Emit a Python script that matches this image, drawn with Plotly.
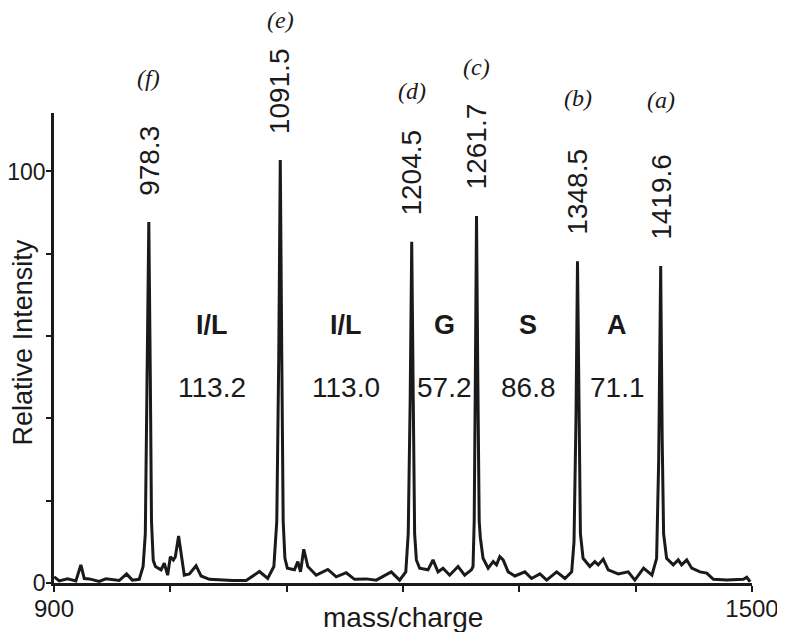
import plotly.graph_objects as go

# spectrum trace (m/z, relative intensity)
mz = [900.2, 904.5, 911.7, 918.8, 923.1, 926.0, 930.3, 938.9, 944.6, 956.1,
      962.4, 967.3, 973.3, 976.6, 978.5, 980.0, 981.5, 982.8, 983.8, 985.3,
      987.2, 992.0, 994.8, 997.7, 1000.0, 1002.6, 1004.3, 1007.1, 1009.2, 1012.0,
      1016.4, 1022.1, 1026.4, 1033.6, 1053.6, 1065.2, 1076.6, 1083.7, 1089.0, 1091.5,
      1093.2, 1094.5, 1095.8, 1097.0, 1098.5, 1100.6, 1106.7, 1109.6, 1111.9, 1114.7,
      1118.2, 1125.4, 1135.4, 1142.6, 1151.2, 1158.3, 1168.4, 1177.0, 1189.9, 1197.1,
      1202.4, 1204.5, 1206.2, 1207.5, 1208.8, 1210.0, 1211.5, 1214.3, 1221.5, 1225.8,
      1230.1, 1234.4, 1240.1, 1247.3, 1253.0, 1258.8, 1260.2, 1261.2, 1262.2, 1263.2,
      1264.3, 1265.5, 1266.5, 1268.8, 1273.2, 1277.5, 1280.4, 1283.2, 1286.1, 1290.4,
      1296.2, 1304.8, 1310.5, 1317.7, 1323.5, 1332.1, 1339.2, 1345.0, 1347.0, 1348.7,
      1350.0, 1351.3, 1352.5, 1354.8, 1360.6, 1364.9, 1367.8, 1372.1, 1376.4, 1385.0,
      1393.6, 1399.3, 1406.8, 1414.0, 1418.0, 1419.8, 1421.5, 1422.8, 1424.0, 1426.6,
      1432.3, 1436.6, 1439.5, 1443.9, 1448.2, 1455.3, 1461.1, 1466.8, 1478.3, 1492.6,
      1495.5, 1498.4]
intensity = [1.5, 0.5, 1.0, 0.5, 4.4, 1.1, 1.0, 0.4, 1.0, 0.6,
             2.2, 0.7, 0.9, 4.0, 12.0, 45.0, 87.7, 50.0, 15.0, 5.5,
             4.0, 3.2, 4.8, 1.9, 6.4, 5.6, 6.4, 11.4, 6.8, 1.9,
             2.2, 4.2, 1.7, 0.9, 0.6, 0.6, 2.8, 1.1, 4.0, 15.0,
             55.0, 102.8, 55.0, 15.0, 6.0, 3.6, 3.2, 5.2, 2.7, 8.2,
             4.0, 1.9, 3.3, 1.5, 2.5, 0.9, 1.0, 0.7, 2.7, 0.7,
             2.7, 12.0, 45.0, 82.9, 45.0, 12.0, 5.6, 3.6, 3.2, 5.6,
             2.7, 3.6, 1.9, 4.0, 1.9, 3.2, 4.0, 15.0, 50.0, 89.2,
             50.0, 15.0, 11.0, 6.0, 3.6, 5.2, 4.4, 6.4, 5.6, 2.7,
             1.7, 2.7, 1.1, 2.2, 0.7, 2.7, 1.1, 2.7, 10.0, 40.0,
             78.2, 40.0, 12.0, 6.0, 4.0, 5.2, 4.4, 5.8, 3.2, 2.2,
             2.7, 0.7, 3.6, 1.9, 6.0, 30.0, 77.0, 35.0, 12.0, 6.0,
             4.4, 5.6, 4.4, 5.6, 3.6, 2.7, 2.4, 0.9, 0.7, 0.9,
             1.4, 0.3]

# labelled fragment peaks
peak_mz = [981.5, 1094.5, 1207.5, 1263.2, 1350.0, 1421.5]
peak_top = [87.7, 102.8, 82.9, 89.2, 78.2, 77.0]
peak_labels = ["978.3", "1091.5", "1204.5", "1261.7", "1348.5", "1419.6"]
tags = ["(f)", "(e)", "(d)", "(c)", "(b)", "(a)"]
tag_y = [122.7, 136.8, 119.6, 125.4, 117.9, 117.4]

# residues between neighbouring peaks
residue_mz = [1035.5, 1151.0, 1235.5, 1307.5, 1384.0]
residues = ["I/L", "I/L", "G", "S", "A"]
deltas = ["113.2", "113.0", "57.2", "86.8", "71.1"]

y_max = 114.2
font = "Liberation Sans, Arial, sans-serif"
ink = "#1a1a1a"

fig = go.Figure(go.Scatter(x=mz, y=intensity, mode="lines",
                           line=dict(color=ink, width=3),
                           hoverinfo="skip"))

ann = []
for x, top, lab in zip(peak_mz, peak_top, peak_labels):
    ann.append(dict(x=x, y=top, text=lab, textangle=-90, showarrow=False,
                    xanchor="center", yanchor="bottom", yshift=24,
                    font=dict(size=28, color=ink, family=font)))
# tags sit above the plot area, so they go on paper coords
for x, y, t in zip(peak_mz, tag_y, tags):
    ann.append(dict(x=x, xref="x", y=y / y_max, yref="paper",
                    text="<i>" + t + "</i>", showarrow=False,
                    xanchor="center", yanchor="middle",
                    font=dict(size=24, color=ink,
                              family="Liberation Serif, Times New Roman, serif")))
for x, r, d in zip(residue_mz, residues, deltas):
    ann.append(dict(x=x, y=62.7, text="<b>" + r + "</b>", showarrow=False,
                    xanchor="center", yanchor="middle",
                    font=dict(size=27, color=ink, family=font)))
    ann.append(dict(x=x, y=47.4, text=d, showarrow=False,
                    xanchor="center", yanchor="middle",
                    font=dict(size=28, color=ink, family=font)))

# axis titles
ann.append(dict(xref="paper", yref="paper", x=-0.045, y=0.511,
                text="Relative Intensity", textangle=-90, showarrow=False,
                xanchor="center", yanchor="middle",
                font=dict(size=27, color=ink, family=font)))
ann.append(dict(xref="paper", yref="paper", x=0.5, y=-0.074,
                text="mass/charge", showarrow=False,
                xanchor="center", yanchor="middle",
                font=dict(size=28, color=ink, family=font)))

fig.update_layout(
    width=785, height=632,
    margin=dict(l=46, r=41, t=105, b=57),
    paper_bgcolor="white", plot_bgcolor="white",
    showlegend=False,
    annotations=ann,
    font=dict(family=font, color=ink),
    xaxis=dict(range=[900, 1500], showgrid=False, zeroline=False,
               automargin=False,
               showline=True, linecolor=ink, linewidth=2.5,
               ticks="outside", ticklen=6, tickwidth=2, tickcolor=ink,
               ticklabelstandoff=-4,
               tickvals=[900, 1000, 1100, 1200, 1300, 1400, 1500],
               ticktext=["900", "", "", "", "", "", "1500"],
               tickfont=dict(size=24)),
    yaxis=dict(range=[0, y_max], showgrid=False, zeroline=False,
               automargin=False,
               showline=True, linecolor=ink, linewidth=2.5,
               ticks="outside", ticklen=5, tickwidth=2, tickcolor=ink,
               ticklabelstandoff=-4,
               tickvals=[0, 20, 40, 60, 80, 100],
               ticktext=["0", "", "", "", "", "100"],
               tickfont=dict(size=23)),
)

fig.write_html("out.html")
